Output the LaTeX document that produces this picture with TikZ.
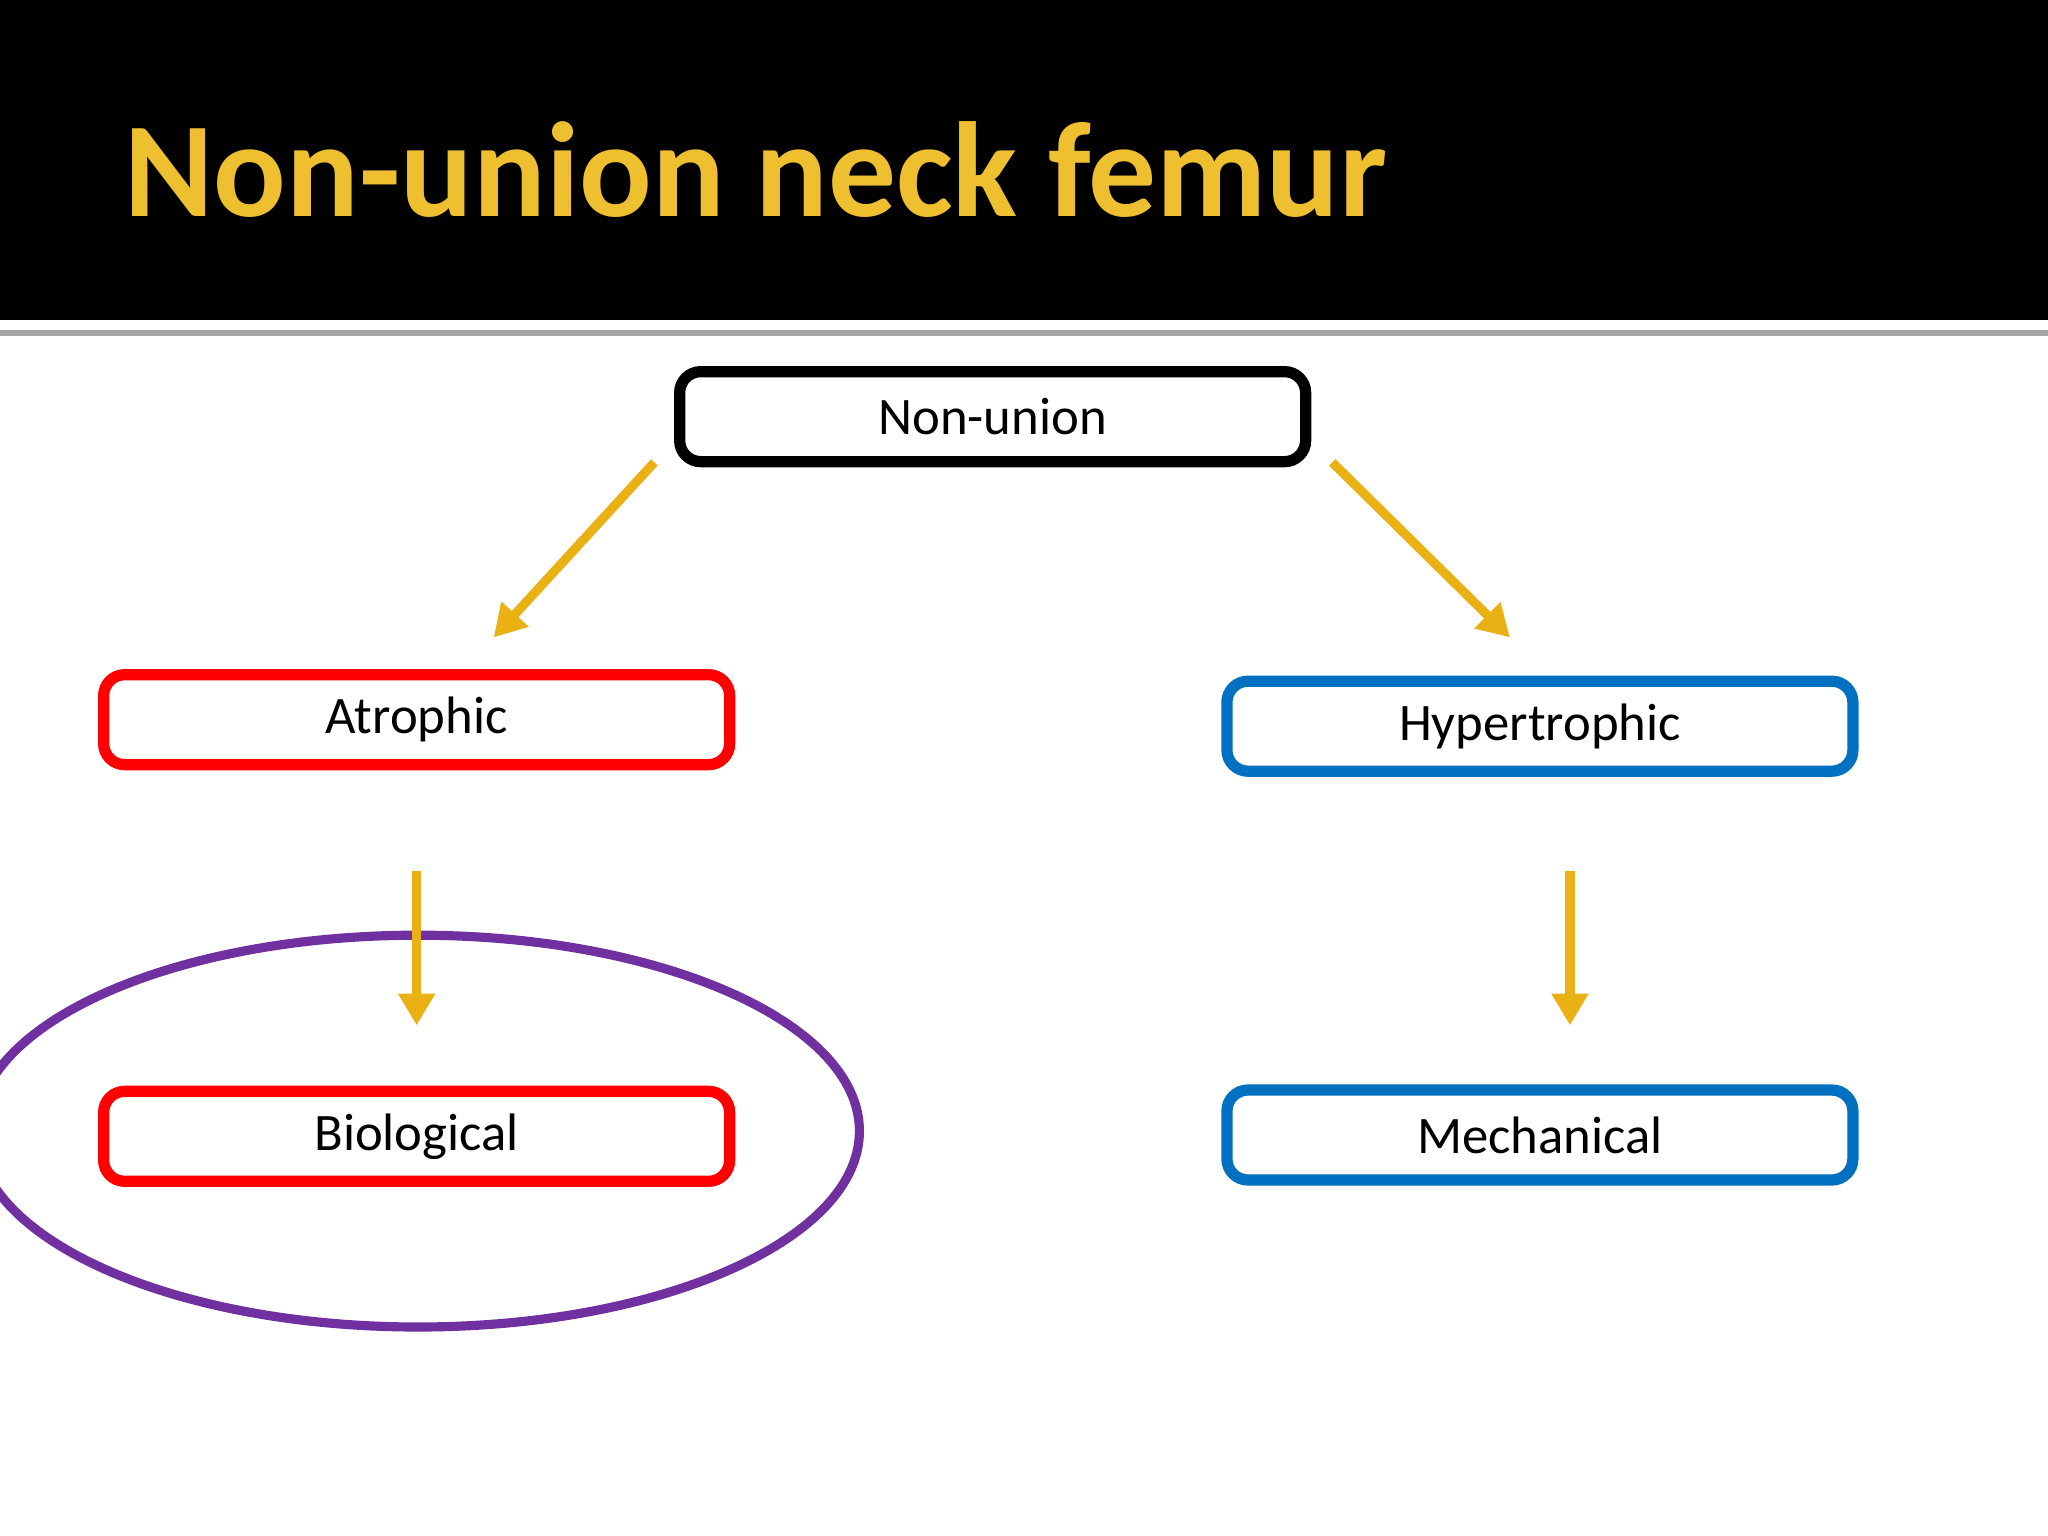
\documentclass[tikz,border=0pt]{standalone}
\usepackage{fontspec}
\setmainfont{Carlito}
\usetikzlibrary{positioning,arrows.meta}
\definecolor{gold}{HTML}{EEC02F}
\definecolor{arrowgold}{HTML}{E9B114}
\definecolor{redbox}{HTML}{FF0000}
\definecolor{bluebox}{HTML}{0070C0}
\definecolor{purp}{HTML}{7030A0}
\begin{document}
\begin{tikzpicture}[x=0.01306cm,y=-0.01306cm]
\tikzstyle{box}=[rectangle,rounded corners=6pt,line width=3.2pt,
minimum width=6.26cm,minimum height=0.9cm,fill=white,font=\fontsize{15}{18}\selectfont]
\tikzstyle{link}=[arrowgold,line width=2.6pt,-{Triangle[length=9pt,width=10pt]}]
\useasboundingbox (0,0) rectangle (1568,1176);
\fill[white] (0,0) rectangle (1568,1176);
\fill[black] (0,0) rectangle (1568,245);
\draw[gray!70,line width=1.5pt] (0,255) -- (1568,255);
\node[anchor=base west,text=gold,font=\fontsize{38.5}{42}\selectfont\bfseries] (title) at (86,166) {Non-union neck femur};

\node[box,draw=black] at (760,319) (nonunion) {Non-union};
\node[box,draw=redbox] at (319,551) (atrophic) {Atrophic};
\node[box,draw=bluebox] at (1179,556) (hyper) {Hypertrophic};
\node[box,draw=redbox] at (319,870) (bio) {Biological};
\node[box,draw=bluebox] at (1179,869) (mech) {Mechanical};
\draw[purp,line width=2.6pt] (320,866) ellipse [x radius=338,y radius=150];

\coordinate (a1) at (501,354);
\coordinate (a2) at (378,488);
\coordinate (b1) at (1020,354);
\coordinate (b2) at (1156,488);
\coordinate (c1) at (319,667);
\coordinate (c2) at (319,785);
\coordinate (d1) at (1202,667);
\coordinate (d2) at (1202,785);
\draw[link] (a1) -- (a2);
\draw[link] (b1) -- (b2);
\draw[link] (c1) -- (c2);
\draw[link] (d1) -- (d2);

\end{tikzpicture}
\end{document}
